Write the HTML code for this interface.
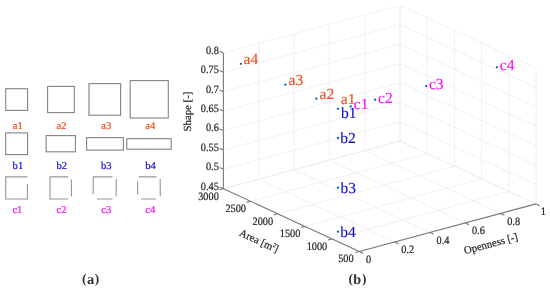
<!DOCTYPE html>
<html><head><meta charset="utf-8"><style>
html,body{margin:0;padding:0;background:#fff;}
svg{display:block;}
text{text-rendering:geometricPrecision;}
.t{font-family:"Liberation Serif",serif;font-size:10.3px;fill:#222;stroke:#222;stroke-width:0.18px;}
.d{font-family:"Liberation Serif",serif;font-size:15.5px;stroke-width:0.1px;}
.s{font-family:"Liberation Serif",serif;font-size:10.6px;stroke-width:0.2px;}
.l{font-family:"Liberation Serif",serif;font-size:10.8px;fill:#222;stroke:#222;stroke-width:0.18px;}
.c{font-family:"Liberation Serif",serif;font-size:13.4px;font-weight:bold;fill:#333;}
</style></head><body>
<svg width="550" height="292" viewBox="0 0 550 292">
<rect width="550" height="292" fill="#fff"/>
<path d="M359.3 251.5L223.4 188.7M394.64 241.98L258.74 179.18M429.98 232.46L294.08 169.66M465.32 222.94L329.42 160.14M500.66 213.42L364.76 150.62M536 203.9L400.1 141.1M359.3 251.5L536 203.9M332.12 238.94L508.82 191.34M304.94 226.38L481.64 178.78M277.76 213.82L454.46 166.22M250.58 201.26L427.28 153.66M223.4 188.7L400.1 141.1M223.4 188.7L223.4 52.9M258.74 179.18L258.74 43.38M294.08 169.66L294.08 33.86M329.42 160.14L329.42 24.34M364.76 150.62L364.76 14.82M400.1 141.1L400.1 5.3M223.4 188.7L400.1 141.1M223.4 169.3L400.1 121.7M223.4 149.9L400.1 102.3M223.4 130.5L400.1 82.9M223.4 111.1L400.1 63.5M223.4 91.7L400.1 44.1M223.4 72.3L400.1 24.7M223.4 52.9L400.1 5.3M536 203.9L536 68.1M508.82 191.34L508.82 55.54M481.64 178.78L481.64 42.98M454.46 166.22L454.46 30.42M427.28 153.66L427.28 17.86M400.1 141.1L400.1 5.3M536 203.9L400.1 141.1M536 184.5L400.1 121.7M536 165.1L400.1 102.3M536 145.7L400.1 82.9M536 126.3L400.1 63.5M536 106.9L400.1 44.1M536 87.5L400.1 24.7M536 68.1L400.1 5.3" stroke="#eeeeee" stroke-width="0.9" fill="none"/>
<path d="M223.4 188.7L223.4 52.9M359.3 251.5L223.4 188.7M359.3 251.5L536 203.9M223.4 188.7L219.59 186.94M223.4 169.3L219.59 167.54M223.4 149.9L219.59 148.14M223.4 130.5L219.59 128.74M223.4 111.1L219.59 109.34M223.4 91.7L219.59 89.94M223.4 72.3L219.59 70.54M223.4 52.9L219.59 51.14M359.3 251.5L355.24 252.59M332.12 238.94L328.06 240.03M304.94 226.38L300.88 227.47M277.76 213.82L273.7 214.91M250.58 201.26L246.52 202.35M223.4 188.7L219.34 189.79M359.3 251.5L363.11 253.26M394.64 241.98L398.45 243.74M429.98 232.46L433.79 234.22M465.32 222.94L469.13 224.7M500.66 213.42L504.47 215.18M536 203.9L539.81 205.66" stroke="#7a7a7a" stroke-width="1.1" fill="none"/>
<g fill="none" stroke="#838383" stroke-width="1.1"><rect x="5.7" y="88.7" width="21.9" height="21.7"/><rect x="47.6" y="86.4" width="26.7" height="26.2"/><rect x="89" y="83.6" width="31.6" height="31.6"/><rect x="130.2" y="80.6" width="38.1" height="37.4"/><rect x="5.7" y="132.9" width="21.9" height="21.7"/><rect x="46.1" y="135.6" width="29.3" height="16.2"/><rect x="86.6" y="137.6" width="36.8" height="12.5"/><rect x="126.8" y="138.7" width="44.4" height="10.5"/><path d="M27.4 184V199H5.7V176.9H27.4" stroke="#959595"/><path d="M68.2 176.9H50V199H68.2M71.4 179.4V196.5" stroke="#959595"/><path d="M112.5 176.9H93.2V194.3M116.2 179V196.3M97 199H112.5" stroke="#959595"/><path d="M156.4 176.9H138.7M137.6 181.6V194.3M160.2 179V196.3M141.3 199H156" stroke="#959595"/></g>
<g fill="#0062ab"><circle cx="240.9" cy="63.8" r="1.15"/><circle cx="285.4" cy="84.7" r="1.15"/><circle cx="316.3" cy="98.7" r="1.15"/><circle cx="337.9" cy="108.8" r="1.15"/><circle cx="338" cy="138" r="1.15"/><circle cx="338" cy="187.7" r="1.15"/><circle cx="338" cy="231.7" r="1.15"/><circle cx="350.7" cy="106.5" r="1.15"/><circle cx="375.1" cy="99.7" r="1.15"/><circle cx="426.2" cy="86.1" r="1.15"/><circle cx="496.9" cy="67.3" r="1.15"/></g>
<text transform="translate(218.8 189.5) scale(1 1.09)" text-anchor="end" class="t">0.45</text>
<text transform="translate(218.8 170.1) scale(1 1.09)" text-anchor="end" class="t">0.5</text>
<text transform="translate(218.8 150.7) scale(1 1.09)" text-anchor="end" class="t">0.55</text>
<text transform="translate(218.8 131.3) scale(1 1.09)" text-anchor="end" class="t">0.6</text>
<text transform="translate(218.8 111.9) scale(1 1.09)" text-anchor="end" class="t">0.65</text>
<text transform="translate(218.8 92.5) scale(1 1.09)" text-anchor="end" class="t">0.7</text>
<text transform="translate(218.8 73.1) scale(1 1.09)" text-anchor="end" class="t">0.75</text>
<text transform="translate(218.8 53.7) scale(1 1.09)" text-anchor="end" class="t">0.8</text>
<text transform="translate(353.6 262.1) scale(1 1.09)" text-anchor="end" class="t">500</text>
<text transform="translate(327.22 249.74) scale(1 1.09)" text-anchor="end" class="t">1000</text>
<text transform="translate(300.34 237.38) scale(1 1.09)" text-anchor="end" class="t">1500</text>
<text transform="translate(273.16 224.82) scale(1 1.09)" text-anchor="end" class="t">2000</text>
<text transform="translate(245.98 212.26) scale(1 1.09)" text-anchor="end" class="t">2500</text>
<text transform="translate(218.8 199.6) scale(1 1.09)" text-anchor="end" class="t">3000</text>
<text transform="translate(365.9 263) scale(1 1.09)" text-anchor="start" class="t">0</text>
<text transform="translate(401.24 253.48) scale(1 1.09)" text-anchor="start" class="t">0.2</text>
<text transform="translate(436.58 243.96) scale(1 1.09)" text-anchor="start" class="t">0.4</text>
<text transform="translate(471.92 234.44) scale(1 1.09)" text-anchor="start" class="t">0.6</text>
<text transform="translate(507.26 224.92) scale(1 1.09)" text-anchor="start" class="t">0.8</text>
<text transform="translate(540.8 215.4) scale(1 1.09)" text-anchor="start" class="t">1</text>
<text x="243.6" y="64.4" fill="#f24a1c" stroke="#f24a1c" class="d">a4</text>
<text x="288.5" y="85" fill="#f24a1c" stroke="#f24a1c" class="d">a3</text>
<text x="319.5" y="99" fill="#f24a1c" stroke="#f24a1c" class="d">a2</text>
<text x="340.8" y="103.7" fill="#f24a1c" stroke="#f24a1c" class="d">a1</text>
<text x="341" y="118" fill="#0c0cd6" stroke="#0c0cd6" class="d">b1</text>
<text x="340.3" y="142.6" fill="#0c0cd6" stroke="#0c0cd6" class="d">b2</text>
<text x="340.5" y="192.9" fill="#0c0cd6" stroke="#0c0cd6" class="d">b3</text>
<text x="340.3" y="236.7" fill="#0c0cd6" stroke="#0c0cd6" class="d">b4</text>
<text x="353.8" y="109.3" fill="#fb0cf8" stroke="#fb0cf8" class="d">c1</text>
<text x="378" y="102.7" fill="#fb0cf8" stroke="#fb0cf8" class="d">c2</text>
<text x="428.9" y="88.8" fill="#fb0cf8" stroke="#fb0cf8" class="d">c3</text>
<text x="499.8" y="70.3" fill="#fb0cf8" stroke="#fb0cf8" class="d">c4</text>
<text x="17.7" y="129.4" fill="#f24a1c" stroke="#f24a1c" text-anchor="middle" class="s">a1</text>
<text x="61.5" y="129.4" fill="#f24a1c" stroke="#f24a1c" text-anchor="middle" class="s">a2</text>
<text x="106.2" y="129.4" fill="#f24a1c" stroke="#f24a1c" text-anchor="middle" class="s">a3</text>
<text x="150.2" y="129.4" fill="#f24a1c" stroke="#f24a1c" text-anchor="middle" class="s">a4</text>
<text x="17.9" y="168.6" fill="#0c0cd6" stroke="#0c0cd6" text-anchor="middle" class="s">b1</text>
<text x="61.8" y="168.6" fill="#0c0cd6" stroke="#0c0cd6" text-anchor="middle" class="s">b2</text>
<text x="106.3" y="168.6" fill="#0c0cd6" stroke="#0c0cd6" text-anchor="middle" class="s">b3</text>
<text x="150.5" y="168.6" fill="#0c0cd6" stroke="#0c0cd6" text-anchor="middle" class="s">b4</text>
<text x="17.4" y="212.7" fill="#fb0cf8" stroke="#fb0cf8" text-anchor="middle" class="s">c1</text>
<text x="61.6" y="212.7" fill="#fb0cf8" stroke="#fb0cf8" text-anchor="middle" class="s">c2</text>
<text x="106.3" y="212.7" fill="#fb0cf8" stroke="#fb0cf8" text-anchor="middle" class="s">c3</text>
<text x="150.2" y="212.7" fill="#fb0cf8" stroke="#fb0cf8" text-anchor="middle" class="s">c4</text>
<text class="l" transform="translate(190.6,131.5) rotate(-90)">Shape [-]</text>
<text class="l" transform="translate(238.5,235.2) rotate(24.8)">Area [m<tspan font-size="6" dy="-4">2</tspan><tspan dy="4" dx="-0.4">]</tspan></text>
<text class="l" transform="translate(465,254.3) rotate(-15.1)">Openness [-]</text>
<text class="c" x="82.1" y="282.7">(</text><text class="c" x="86.9" y="283.6" style="font-size:14.6px">a</text><text class="c" x="94.8" y="282.7">)</text>
<text class="c" x="348.4" y="282.7">(</text><text class="c" x="353.3" y="283.6" style="font-size:14.2px">b</text><text class="c" x="361.9" y="282.7">)</text>
</svg>
</body></html>
